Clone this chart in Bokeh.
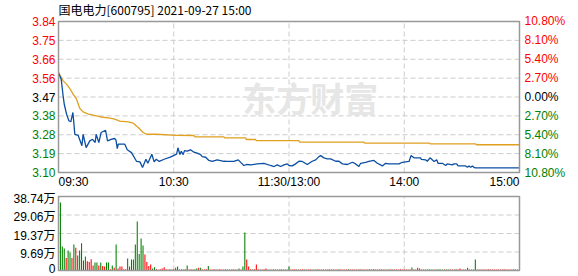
from bokeh.plotting import figure
from bokeh.models import Range1d, ColumnDataSource
from bokeh.layouts import column
from bokeh.core.properties import value
from bokeh.embed import file_html
from bokeh.resources import INLINE

# ---------------- data ----------------
title_text = "国电电力[600795]  2021-09-27 15:00"
prev_close = 3.47

# price ticks (left) and percent ticks (right), top to bottom
price_ticks = [3.8448, 3.7511, 3.6574, 3.5637, 3.47, 3.3763, 3.2826, 3.1889, 3.0952]
price_labels = ["3.84", "3.75", "3.66", "3.56", "3.47", "3.38", "3.28", "3.19", "3.10"]
pct_labels = ["10.80%", "8.10%", "5.40%", "2.70%", "0.00%", "2.70%", "5.40%", "8.10%", "10.80%"]
label_sides = ["up", "up", "up", "up", "flat", "down", "down", "down", "down"]

time_ticks = [0, 60, 120, 180, 240]
time_labels = ["09:30", "10:30", "11:30/13:00", "14:00", "15:00"]

vol_ticks = [38.74, 29.06, 19.37, 9.69, 0]
vol_labels = ["38.74万", "29.06万", "19.37万", "9.69万", "0"]

# minute price (minutes since 09:30, lunch collapsed)
price_t = [0, 1.4, 2.4, 3.0, 4.2, 5.4, 6.4, 7.5, 8.5, 10.2, 12.2, 12.8, 14.4, 16.3, 17.7,
           19.1, 19.6, 21.0, 22.2, 24.5, 25.5, 27.4, 29.2, 29.9, 30.6, 31.1, 34.5, 35.8,
           38.0, 40.6, 42.4, 43.75, 45.5, 46.5, 48.6, 49.8, 50.9, 52.4, 55.0, 58.2, 61.5,
           62.2, 63.2, 63.9, 64.9, 65.6, 67.0, 68.75, 70.5, 72.2, 74.0, 74.8, 76.6, 78.3,
           80.0, 82.6, 86.1, 87.8, 91.3, 93.6, 95.1, 96.5, 98.2, 100, 103.5, 106.9, 110.4,
           112.2, 113.9, 115.6, 117.4, 119.1, 120, 121.7, 123.4, 125.2, 126.9, 129.5, 132.1,
           133.9, 135.6, 136.5, 138.2, 139.9, 141.7, 144.3, 146.0, 147.8, 150.4, 153.0, 154.7,
           156.4, 157.3, 159.9, 161.6, 164.2, 166.0, 168.6, 170.3, 172.0, 177.3, 179.0, 182.5,
           183.5, 185.1, 188.5, 188.9, 191.1, 192.0, 193.4, 194.6, 195.5, 196.9, 197.6, 199.8,
           201.6, 202.4, 205.0, 205.9, 207.3, 208.0, 212.0, 212.9, 213.7, 214.6, 215.5, 216.3,
           217.0, 240]
price_v = [3.59, 3.558, 3.476, 3.434, 3.385, 3.352, 3.347, 3.393, 3.285, 3.280, 3.228, 3.285,
           3.219, 3.252, 3.260, 3.244, 3.285, 3.244, 3.294, 3.305, 3.252, 3.260, 3.264, 3.257,
           3.214, 3.236, 3.236, 3.208, 3.194, 3.151, 3.148, 3.120, 3.161, 3.141, 3.186, 3.148,
           3.161, 3.150, 3.161, 3.172, 3.186, 3.218, 3.184, 3.201, 3.184, 3.204, 3.201, 3.208,
           3.196, 3.191, 3.184, 3.174, 3.171, 3.155, 3.151, 3.158, 3.151, 3.150, 3.150, 3.158,
           3.143, 3.130, 3.135, 3.133, 3.138, 3.141, 3.130, 3.125, 3.133, 3.125, 3.133, 3.138,
           3.130, 3.128, 3.138, 3.151, 3.150, 3.135, 3.151, 3.158, 3.174, 3.179, 3.168, 3.163,
           3.163, 3.151, 3.151, 3.138, 3.135, 3.146, 3.138, 3.125, 3.141, 3.145, 3.150, 3.155,
           3.141, 3.128, 3.141, 3.138, 3.138, 3.146, 3.150, 3.179, 3.168, 3.168, 3.160, 3.158,
           3.151, 3.168, 3.158, 3.150, 3.158, 3.141, 3.141, 3.130, 3.138, 3.133, 3.138, 3.138,
           3.128, 3.128, 3.121, 3.128, 3.121, 3.128, 3.121, 3.118, 3.118]

# average price line
avg_t = [0, 1.0, 2.4, 4.2, 5.9, 7.6, 9.4, 11.1, 12.8, 15.5, 18.1, 21.5, 26.7, 29.3, 31.9,
         36.3, 38.9, 41.5, 44.1, 45.8, 51, 61.5, 70.5, 71, 86.1, 86.5, 97.4, 97.8, 102.6,
         103, 125.2, 125.5, 159.0, 159.4, 193.2, 193.6, 217.2, 217.6, 240]
avg_v = [3.59, 3.575, 3.550, 3.534, 3.512, 3.484, 3.459, 3.413, 3.396, 3.385, 3.380, 3.372,
         3.365, 3.360, 3.350, 3.347, 3.340, 3.319, 3.294, 3.285, 3.285, 3.280, 3.279, 3.272,
         3.272, 3.267, 3.267, 3.259, 3.259, 3.253, 3.253, 3.246, 3.246, 3.241, 3.241, 3.237,
         3.237, 3.233, 3.233]

# minute volume (万手), one per minute 0..240, and direction (r = up, g = down)
volume = [
    0, 35.6, 12.6, 11.5, 6.6, 10.5, 9.4, 6.6, 13.6, 11.9,
    7.9, 10.5, 14.3, 5.2, 7.3, 4.9, 4.5, 5.9, 2.6, 4.2,
    4.2, 2.6, 4.2, 2.4, 2.1, 4.2, 4.2, 0.7, 2.6, 1.4,
    13.6, 1.0, 2.1, 2.1, 0.7, 0.7, 6.3, 2.1, 5.8, 5.8,
    13.6, 25.7, 8.7, 16.8, 13.1, 8.4, 4.5, 2.4, 3.1, 1.0,
    1.7, 0.7, 0.4, 0.7, 1.0, 1.7, 0.7, 0.5, 0.6, 0.5,
    0.6, 1.4, 2.1, 0.5, 0.7, 0.5, 0.6, 2.6, 0.5, 0.7,
    0.5, 0.7, 1.0, 1.4, 1.4, 0.5, 0.5, 0.6, 2.4, 0.5,
    0.5, 0.6, 0.5, 0.5, 0.6, 0.5, 0.5, 0.6, 0.5, 0.5,
    0.5, 0.6, 0.5, 0.5, 1.0, 0.5, 2.1, 19.9, 5.8, 2.1,
    0.6, 0.5, 0.6, 3.1, 0.6, 0.5, 0.5, 0.6, 1.0, 0.5,
    0.5, 0.5, 0.6, 0.5, 0.5, 0.5, 0.6, 0.5, 0.5, 0.5,
    2.1, 0.5, 0.5, 0.6, 0.5, 0.5, 0.5, 0.6, 0.5, 0.5,
    0.5, 0.6, 0.5, 0.5, 0.5, 0.6, 0.5, 0.5, 0.5, 0.5,
    0.5, 0.6, 0.5, 0.5, 0.5, 0.5, 0.6, 0.5, 0.5, 0.5,
    0.5, 0.6, 0.5, 0.5, 0.5, 0.5, 0.5, 0.6, 0.5, 0.5,
    0.5, 0.5, 0.6, 0.5, 0.7, 0.5, 0.5, 0.5, 0.6, 0.5,
    0.5, 0.5, 0.5, 0.6, 0.5, 0.5, 0.5, 0.5, 0.6, 0.5,
    0.5, 0.5, 0.5, 0.5, 1.6, 0.5, 0.5, 1.4, 1.0, 0.5,
    0.5, 0.5, 0.5, 0.6, 0.5, 0.5, 0.5, 0.5, 0.6, 0.5,
    0.5, 0.5, 0.6, 0.5, 0.5, 0.5, 0.5, 0.6, 0.5, 1.0,
    0.5, 0.5, 0.5, 1.4, 0.5, 0.5, 0.5, 5.8, 0.5, 0.5,
    0.5, 0.5, 0.5, 0.5, 0.6, 0.5, 0.5, 0.5, 0.5, 0.5,
    0.5, 0.5, 0.6, 0.5, 0.5, 0.5, 0.5, 0.6, 0.5, 0.5,
    1.0,
]
direction = (
    "rgggrggrgr" "gggrgrrrrg" "grgrrggrgr" "grrrrrgrgg" "gggggrrrrg"
    "grrrrrrrgr" "rggrrgrgrr" "rggrgrrrgr" "rrgrrrgrrg" "grrrgrggrr"
    "rgrrrgrrrg" "ggrrgggrrg" "grrrgrrrgr" "rrrggrrrrg" "rrrgrrgrrr"
    "rgrrrrgrrr" "rrgrrrrgrr" "rggrgrrrrr" "rrrrgrrrrg" "ggggggrggg"
    "grggrrgrrr" "rrggrggggr" "rrrrrrrrrr" "rrrrrrgrrr" "r"
)

# ---------------- styling / layout constants ----------------
W = 578
H1, H2 = 190, 86
LEFT, RIGHT = 58, 519            # chart box, pixels from left
TOP1, BOT1 = 21, 172             # price box, pixels from top of figure 1
TOP2, BOT2 = 6, 80               # volume box, pixels from top of figure 2
RED = "#ff0000"
GREEN = "#008000"
BLACK = "#000000"
NUM_FONT = value("'Liberation Sans', 'Noto Sans CJK SC'")
CJK_FONT = value("'Noto Sans CJK SC'")
GRID_COLOR = "#cccccc"
FRAME_COLOR = "#999999"
DASH = "5 3"
side_color = {"up": RED, "flat": BLACK, "down": GREEN}

t0, t1 = time_ticks[0], time_ticks[-1]
y_lo = prev_close * (1 - 0.108)
y_hi = prev_close * (1 + 0.108)

ppm = (RIGHT - LEFT) / (t1 - t0)
xr = (t0 - LEFT / ppm, t1 + (W - RIGHT) / ppm)
dp = (y_hi - y_lo) / (BOT1 - TOP1)
yr1 = (y_lo - (H1 - BOT1) * dp, y_hi + TOP1 * dp)
v_hi, v_lo = vol_ticks[0], vol_ticks[-1]
dv = (v_hi - v_lo) / (BOT2 - TOP2)
yr2 = (v_lo - (H2 - BOT2) * dv, v_hi + TOP2 * dv)


def base_fig(h, yr):
    f = figure(width=W, height=h, x_range=Range1d(*xr), y_range=Range1d(*yr),
               output_backend="svg", toolbar_location=None,
               x_axis_location=None, y_axis_location=None,
               min_border=0, min_border_left=0, min_border_right=0,
               min_border_top=0, min_border_bottom=0)
    f.center = []
    f.outline_line_color = None
    f.background_fill_color = "white"
    f.border_fill_color = "white"
    return f


# ---------------- price figure ----------------
p = base_fig(H1, yr1)

inner_p = price_ticks[1:-1]
p.segment(x0=[t0] * len(inner_p), x1=[t1] * len(inner_p), y0=inner_p, y1=inner_p,
          line_color=GRID_COLOR, line_dash=DASH, line_width=1)
inner_t = time_ticks[1:-1]
p.segment(x0=inner_t, x1=inner_t, y0=[y_lo] * len(inner_t), y1=[y_hi] * len(inner_t),
          line_color=GRID_COLOR, line_dash=DASH, line_width=1)

# watermark
p.text(x=[(t0 + t1) / 2 + 11], y=[prev_close], text=["东方财富"], text_align="center",
       text_baseline="middle", text_font=CJK_FONT, text_font_size="34px",
       text_font_style="bold", text_color="#e6e6e6")

p.line(avg_t, avg_v, line_color="#e0a020", line_width=1.3)
p.line(price_t, price_v, line_color="#0b4ea2", line_width=1.3)

p.quad(left=[t0], right=[t1], bottom=[y_lo], top=[y_hi], fill_color=None,
       line_color=FRAME_COLOR, line_width=1.5)

tick_colors = [side_color[s] for s in label_sides]
n = len(price_ticks)
p.text(x=[t0] * n, y=price_ticks, text=price_labels, text_color=tick_colors,
       x_offset=-3, text_align="right", text_baseline="middle",
       text_font=NUM_FONT, text_font_size="12px")
p.text(x=[t1] * n, y=price_ticks, text=pct_labels, text_color=tick_colors,
       x_offset=5, text_align="left", text_baseline="middle",
       text_font=NUM_FONT, text_font_size="12px")

aligns = ["left", "center", "center", "center", "right"]
for t, lab, al in zip(time_ticks, time_labels, aligns):
    p.text(x=[t], y=[y_lo], text=[lab], y_offset=9, text_align=al,
           text_baseline="middle", text_font=NUM_FONT, text_font_size="12px",
           text_color=BLACK)

p.text(x=[t0], y=[y_hi], text=[title_text], y_offset=-12, text_align="left",
       text_baseline="middle", text_font=CJK_FONT, text_font_size="12px",
       text_color=BLACK)

# ---------------- volume figure ----------------
v = base_fig(H2, yr2)

# axis texts first
vsrc = ColumnDataSource(dict(x=[t0] * (len(vol_ticks) - 1), y=vol_ticks[:-1],
                             text=vol_labels[:-1]))
v.text(x="x", y="y", text="text", source=vsrc, text_color=BLACK,
       x_offset=-3, y_offset=2, text_align="right",
       text_baseline="middle", text_font=NUM_FONT, text_font_size="12px")
v.text(x=[t0], y=[vol_ticks[-1]], text=[vol_labels[-1]], text_color=BLACK,
       x_offset=-3, y_offset=-2, text_align="right",
       text_baseline="middle", text_font=NUM_FONT, text_font_size="12px")

inner_v = vol_ticks[1:-1]
v.segment(x0=[t0] * len(inner_v), x1=[t1] * len(inner_v), y0=inner_v, y1=inner_v,
          line_color=GRID_COLOR, line_dash=DASH, line_width=1)
v.segment(x0=inner_t, x1=inner_t, y0=[v_lo] * len(inner_t), y1=[v_hi] * len(inner_t),
          line_color=GRID_COLOR, line_dash=DASH, line_width=1)

src = ColumnDataSource(dict(
    x=list(range(len(volume))),
    top=volume,
    color=[RED if d == "r" else GREEN for d in direction],
))
v.vbar(x="x", top="top", bottom=v_lo, width=0.55, fill_color="color", line_color=None,
       source=src)

v.quad(left=[t0], right=[t1], bottom=[v_lo], top=[v_hi], fill_color=None,
       line_color=FRAME_COLOR, line_width=1.5)

layout = column(p, v, spacing=0)
open("out.html", "w").write(file_html(layout, INLINE))
